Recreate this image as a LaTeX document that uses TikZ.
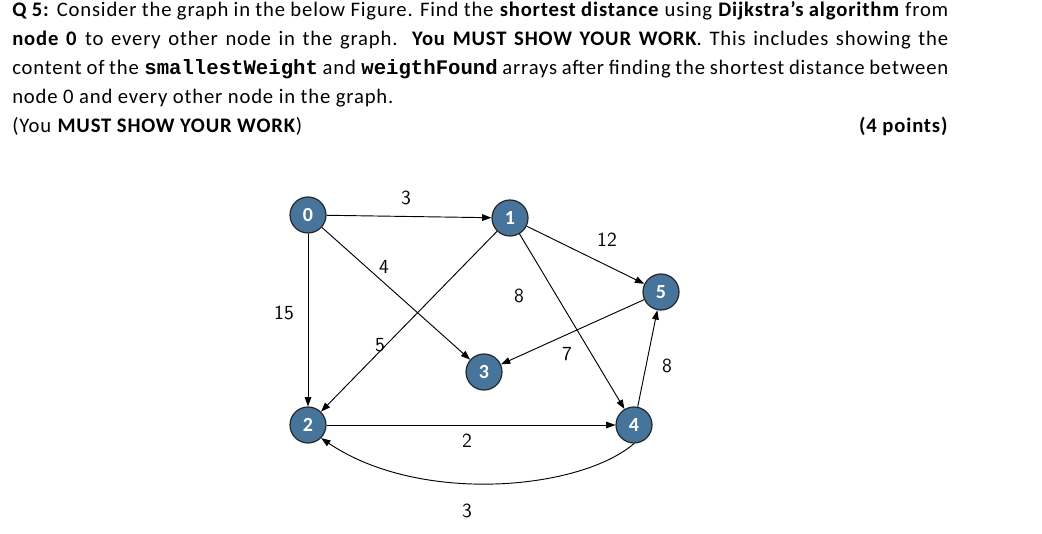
\documentclass[tikz,border=0pt]{standalone}
\usepackage{fontspec}
\setmainfont{Carlito}[LetterSpace=4]
\setmonofont{Liberation Mono}
\usetikzlibrary{arrows.meta}
\definecolor{nodeblue}{RGB}{70,116,154}
\begin{document}
\begin{tikzpicture}[x=0.75pt,y=-0.75pt,
  vert/.style={circle,draw=black!85,line width=0.9pt,fill=nodeblue,text=white,minimum size=27pt,inner sep=0pt,font=\fontsize{15}{15}\selectfont\bfseries},
  edge/.style={-{Triangle[length=7pt,width=5pt]},line width=0.7pt},
  wl/.style={font=\fontsize{15}{15}\selectfont\sffamily}]
\useasboundingbox (0,0) rectangle (1042,534);
\node[anchor=north west,text width=702pt,align=justify,inner sep=0pt,font=\fontsize{15.5}{21.7}\selectfont] (q) at (12,1)
{\textbf{Q 5:} Consider the graph in the below Figure. Find the \textbf{shortest distance} using \textbf{Dijkstra’s algorithm} from \textbf{node 0} to every other node in the graph. \textbf{You MUST SHOW YOUR WORK}. This includes showing the content of the \texttt{\textbf{smallestWeight}} and \texttt{\textbf{weigthFound}} arrays after finding the shortest distance between node 0 and every other node in the graph.\\
(You \textbf{MUST SHOW YOUR WORK})\hfill\textbf{(4 points)}};
\node[vert] (n0) at (308,215) {0};
\node[vert] (n1) at (510,218) {1};
\node[vert] (n5) at (661,292) {5};
\node[vert] (n3) at (484,372) {3};
\node[vert] (n2) at (308,425) {2};
\node[vert] (n4) at (634,425) {4};
\draw[edge] (n0) -- (n1);
\draw[edge] (n0) -- (n2);
\draw[edge] (n0) -- (n3);
\draw[edge] (n1) -- (n2);
\draw[edge] (n1) -- (n5);
\draw[edge] (n1) -- (n4);
\draw[edge] (n5) -- (n3);
\draw[edge] (n4) -- (n5);
\draw[edge] (n2) -- (n4);
\draw[edge] (n4.south) .. controls (580,490) and (420,505) .. (n2.south east);
\node[wl] (l01) at (406,198) {3};
\node[wl] (l02) at (284,313) {15};
\node[wl] (l03) at (384,267) {4};
\node[wl] (l12) at (380,345) {5};
\node[wl] (l15) at (607,240) {12};
\node[wl] (l14) at (519,296) {8};
\node[wl] (l53) at (567,354) {7};
\node[wl] (l45) at (667,366) {8};
\node[wl] (l24) at (467,441) {2};
\node[wl] (l42) at (467,511) {3};
\end{tikzpicture}
\end{document}
